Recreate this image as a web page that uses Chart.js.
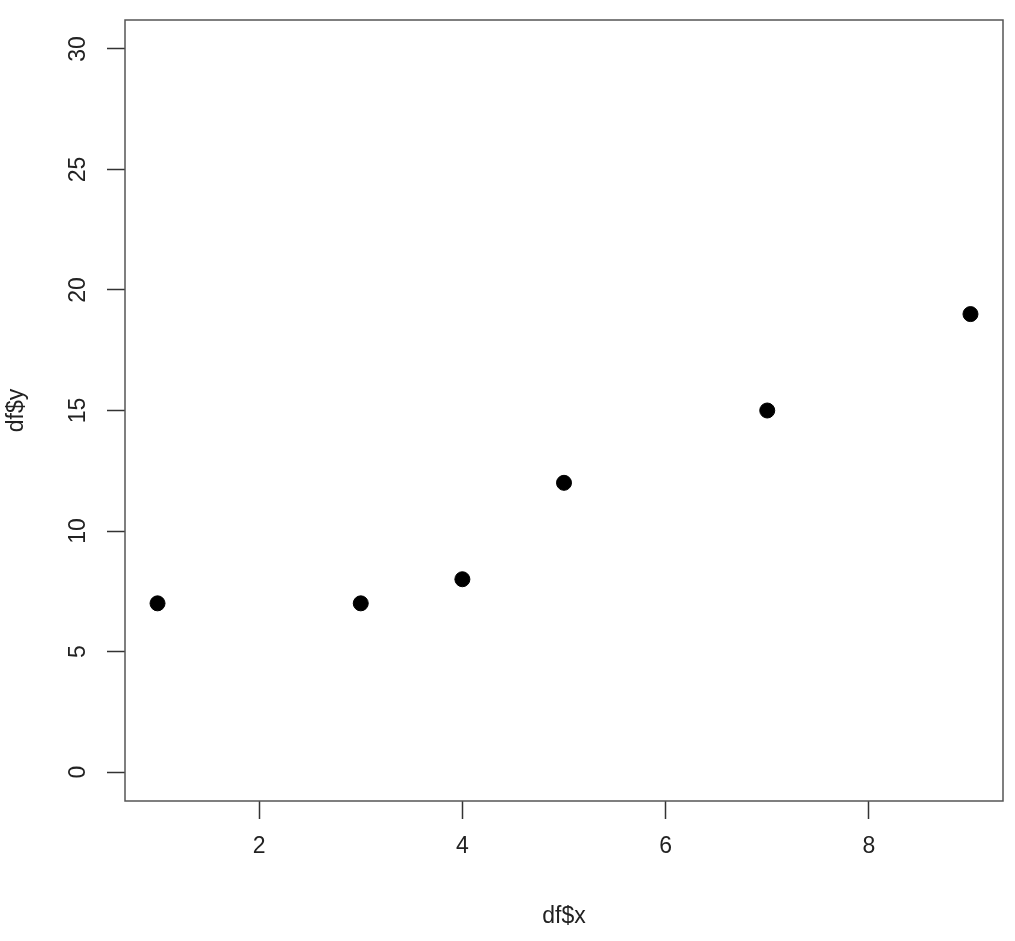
<!DOCTYPE html>
<html>
<head>
<meta charset="utf-8">
<script src="https://cdn.jsdelivr.net/npm/chart.js@4/dist/chart.umd.min.js"></script>
<style>
  html, body { margin: 0; padding: 0; background: #fff; }
  canvas { display: block; }
</style>
</head>
<body>
<canvas id="chart" width="1015" height="941"></canvas>
<script>
// data
let xValues = [1, 3, 4, 5, 7, 9];
let yValues = [7, 7, 8, 12, 15, 19];
let xTicks = [2, 4, 6, 8];
let yTicks = [0, 5, 10, 15, 20, 25, 30];

let fontFamily = "'Liberation Sans', Arial, Helvetica, sans-serif";

// R style box round the plot region
let boxPlugin = {
    id: "box",
    afterDraw: function(chart) {
        let ctx = chart.ctx;
        let a = chart.chartArea;
        ctx.save();
        ctx.strokeStyle = "#555";
        ctx.lineWidth = 1.5;
        ctx.strokeRect(a.left, a.top, a.right - a.left, a.bottom - a.top);
        ctx.restore();
    }
};

let points = xValues.map(function(x, i) {
    return { x: x, y: yValues[i] };
});

new Chart(document.querySelector("#chart").getContext("2d"), {
    type: "scatter",
    data: {
        datasets: [{
            data: points,
            backgroundColor: "#000",
            borderColor: "#000",
            pointRadius: 7.5,
            pointHoverRadius: 7.5
        }]
    },
    options: {
        responsive: false,
        animation: false,
        devicePixelRatio: 1,
        layout: { padding: { top: 20, right: 12, left: 0, bottom: 0 } },
        plugins: {
            legend: { display: false },
            tooltip: { enabled: false }
        },
        scales: {
            x: {
                type: "linear",
                min: 0.68,
                max: 9.32,
                afterBuildTicks: function(scale) {
                    scale.ticks = xTicks.map(function(v) { return { value: v }; });
                },
                afterFit: function(scale) {
                    scale.height = 140;
                    scale.paddingLeft = 0;
                    scale.paddingRight = 0;
                },
                border: { display: false },
                grid: { drawOnChartArea: false, drawTicks: true, tickLength: 18, tickColor: "#333", tickWidth: 1.5 },
                ticks: { autoSkip: false, maxRotation: 0, padding: 14, color: "#222", font: { family: fontFamily, size: 23 } },
                title: { display: true, text: "df$x", color: "#222", font: { family: fontFamily, size: 23 }, padding: { top: 0, bottom: 11 } }
            },
            y: {
                type: "linear",
                min: -1.2,
                max: 31.2,
                afterBuildTicks: function(scale) {
                    scale.ticks = yTicks.map(function(v) { return { value: v }; });
                },
                afterFit: function(scale) {
                    scale.width = 125;
                    scale.paddingTop = 0;
                    scale.paddingBottom = 0;
                },
                border: { display: false },
                grid: { drawOnChartArea: false, drawTicks: true, tickLength: 18, tickColor: "#333", tickWidth: 1.5 },
                ticks: { autoSkip: false, minRotation: 90, maxRotation: 90, crossAlign: "center", padding: 16, color: "#222", font: { family: fontFamily, size: 23 } },
                title: { display: true, text: "df$y", color: "#222", font: { family: fontFamily, size: 23 }, padding: { top: 3, bottom: 0 } }
            }
        }
    },
    plugins: [boxPlugin]
});
</script>
</body>
</html>
